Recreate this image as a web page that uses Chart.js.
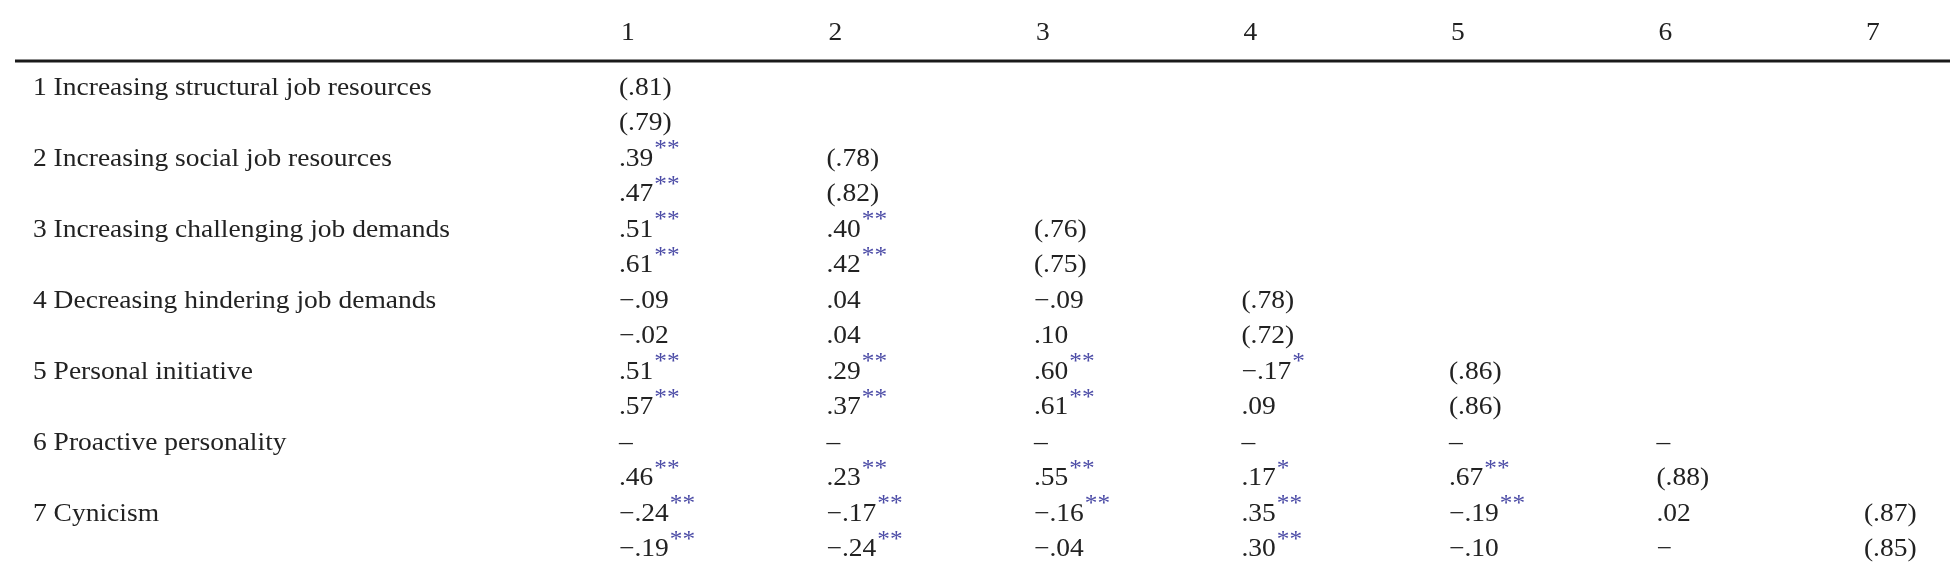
<!DOCTYPE html>
<html>
<head>
<meta charset="utf-8">
<script src="https://cdn.jsdelivr.net/npm/chart.js@4/dist/chart.umd.min.js"></script>
<style>
  html, body { margin: 0; padding: 0; background: #fff; }
  #wrap { width: 1950px; height: 578px; }
</style>
</head>
<body>
<div id="wrap"><canvas id="tbl"></canvas></div>
<script>
// table content
const columnHeads = ['1', '2', '3', '4', '5', '6', '7'];
const rowLabels = [
    '1 Increasing structural job resources',
    '2 Increasing social job resources',
    '3 Increasing challenging job demands',
    '4 Decreasing hindering job demands',
    '5 Personal initiative',
    '6 Proactive personality',
    '7 Cynicism'
];
// two lines per variable (sample 1 above, sample 2 below); trailing * are significance marks
const cells = [
    ['(.81)'],
    ['(.79)'],
    ['.39**', '(.78)'],
    ['.47**', '(.82)'],
    ['.51**', '.40**', '(.76)'],
    ['.61**', '.42**', '(.75)'],
    ['\u2212.09', '.04', '\u2212.09', '(.78)'],
    ['\u2212.02', '.04', '.10', '(.72)'],
    ['.51**', '.29**', '.60**', '\u2212.17*', '(.86)'],
    ['.57**', '.37**', '.61**', '.09', '(.86)'],
    ['\u2013', '\u2013', '\u2013', '\u2013', '\u2013', '\u2013'],
    ['.46**', '.23**', '.55**', '.17*', '.67**', '(.88)'],
    ['\u2212.24**', '\u2212.17**', '\u2212.16**', '.35**', '\u2212.19**', '.02', '(.87)'],
    ['\u2212.19**', '\u2212.24**', '\u2212.04', '.30**', '\u2212.10', '\u2212', '(.85)']
];

const LABEL_COL = -1.824;
const HEAD_ROW = -1.55;
const RULE_ROW = -0.76;
const FONT = '25px "Liberation Serif", "DejaVu Serif", serif';
const STAR_FONT = '23px "Liberation Serif", "DejaVu Serif", serif';
const STRETCH = 1.1;

const points = [];
cells.forEach((row, r) => row.forEach((txt, c) => points.push({ x: c + 1, y: r, txt: txt })));

function drawText(ctx, txt, x, y, color) {
    ctx.save();
    ctx.translate(x, y);
    ctx.scale(STRETCH, 1);
    ctx.fillStyle = color;
    ctx.fillText(txt, 0, 0);
    const w = ctx.measureText(txt).width;
    ctx.restore();
    return w * STRETCH;
}

const tablePlugin = {
    id: 'tableText',
    afterDatasetsDraw(chart) {
        const ctx = chart.ctx;
        const xs = chart.scales.x, ys = chart.scales.y;
        ctx.save();
        ctx.font = FONT;
        ctx.textBaseline = 'middle';
        ctx.textAlign = 'left';

        // header numbers
        columnHeads.forEach((h, i) => drawText(ctx, h, xs.getPixelForValue(i + 1) + 2, ys.getPixelForValue(HEAD_ROW), '#222'));

        // rule under header
        ctx.strokeStyle = '#1a1a1a';
        ctx.lineWidth = 3;
        ctx.beginPath();
        const ry = ys.getPixelForValue(RULE_ROW);
        ctx.moveTo(xs.getPixelForValue(LABEL_COL) - 18, ry);
        ctx.lineTo(chart.chartArea.right, ry);
        ctx.stroke();

        // row labels
        rowLabels.forEach((l, i) => drawText(ctx, l, xs.getPixelForValue(LABEL_COL), ys.getPixelForValue(i * 2), '#222'));

        // cells
        chart.data.datasets[0].data.forEach(p => {
            const m = p.txt.match(/^(.*?)(\**)$/);
            const px = xs.getPixelForValue(p.x), py = ys.getPixelForValue(p.y);
            const w = drawText(ctx, m[1], px, py, '#222');
            if (m[2]) {
                ctx.font = STAR_FONT;
                drawText(ctx, m[2], px + w + 1, py - 10, '#4b4ba6');
                ctx.font = FONT;
            }
        });
        ctx.restore();
    }
};

new Chart(document.getElementById('tbl'), {
    type: 'scatter',
    data: { datasets: [{ data: points, pointRadius: 0, pointHoverRadius: 0 }] },
    options: {
        responsive: true,
        maintainAspectRatio: false,
        animation: false,
        layout: { padding: 0 },
        plugins: { legend: { display: false }, tooltip: { enabled: false } },
        scales: {
            x: { type: 'linear', display: false, min: -1.983, max: 7.415 },
            y: { type: 'linear', display: false, reverse: true, min: -2.479, max: 13.803 }
        }
    },
    plugins: [tablePlugin]
});
</script>
</body>
</html>
